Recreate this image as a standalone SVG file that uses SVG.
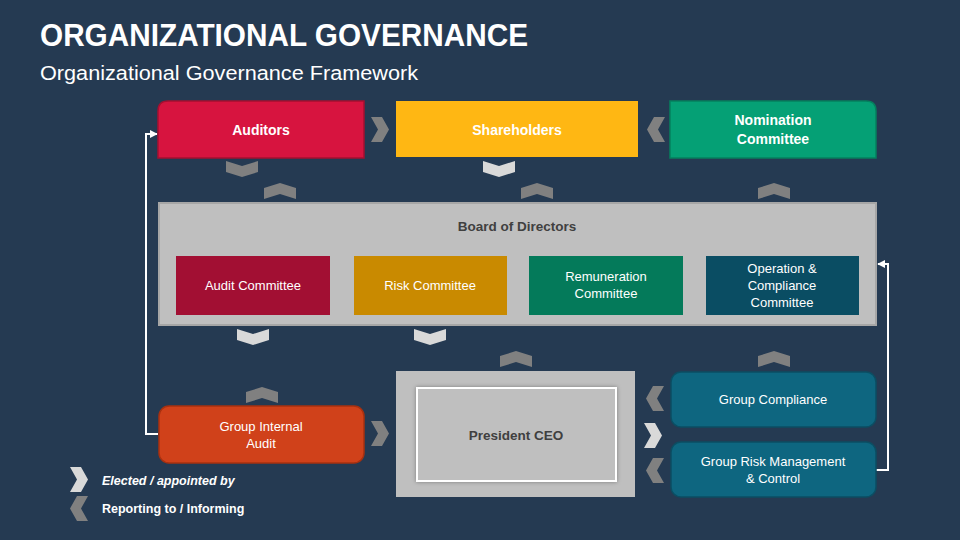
<svg xmlns="http://www.w3.org/2000/svg" width="960" height="540" viewBox="0 0 960 540">
<defs>
<style>
.t{font-family:"Liberation Sans",Arial,sans-serif;fill:#fff;text-anchor:middle}
.b{font-weight:bold}
.dk{fill:#404040}
.rep{fill:#808080}
.ele{fill:#D9D9D9}
.con{fill:none;stroke:#fff;stroke-width:2}
</style>
<marker id="ah" viewBox="0 0 10 10" refX="9" refY="5" markerWidth="4" markerHeight="4" orient="auto">
<path d="M0,0 L10,5 L0,10 Z" fill="#fff"/>
</marker>
<filter id="sh" x="-10%" y="-10%" width="120%" height="120%">
<feDropShadow dx="0" dy="0" stdDeviation="2" flood-color="#000" flood-opacity="0.35"/>
</filter>
<polygon id="cr" points="0,0 11,0 18,12.5 11,25 0,25 7,12.5"/>
<polygon id="cl" points="18,0 7,0 0,12.5 7,25 18,25 11,12.5"/>
<polygon id="cd" points="0,0 16,5 32,0 32,11 16,16 0,11"/>
<polygon id="cu" points="0,5 16,0 32,5 32,16 16,11 0,16"/>
</defs>
<rect width="960" height="540" fill="#253A52"/>
<text x="40" y="46" class="t b" style="text-anchor:start;font-size:31px" textLength="488" lengthAdjust="spacingAndGlyphs">ORGANIZATIONAL GOVERNANCE</text>
<text x="40" y="80" class="t" style="text-anchor:start;font-size:20px" textLength="378" lengthAdjust="spacingAndGlyphs">Organizational Governance Framework</text>

<g id="connectors">
<polyline class="con" points="158,434 146,434 146,134 157,134" marker-end="url(#ah)"/>
<polyline class="con" points="876,470 888,470 888,264 878,264" marker-end="url(#ah)"/>
<use href="#cr" class="rep" x="371" y="117"/>
<use href="#cl" class="rep" x="647" y="117"/>
<use href="#cd" class="rep" x="226" y="161"/>
<use href="#cu" class="rep" x="264" y="183"/>
<use href="#cd" class="ele" x="483" y="161"/>
<use href="#cu" class="rep" x="521" y="183"/>
<use href="#cu" class="rep" x="758" y="183"/>
<use href="#cd" class="ele" x="237" y="329"/>
<use href="#cd" class="ele" x="414" y="329"/>
<use href="#cu" class="rep" x="500" y="351"/>
<use href="#cu" class="rep" x="758" y="351"/>
<use href="#cu" class="rep" x="246" y="387"/>
<use href="#cr" class="rep" x="371" y="421"/>
<use href="#cl" class="rep" x="646" y="386"/>
<use href="#cr" class="ele" x="644" y="423"/>
<use href="#cl" class="rep" x="646" y="458"/>
</g>

<g id="auditors">
<path d="M158,111 Q158,101 168,101 H364 V158 H158 Z" fill="#D7143F" stroke="#A50F30" stroke-width="1.5"/>
<text x="261" y="135" class="t b" font-size="14">Auditors</text>
</g>
<g id="shareholders">
<rect x="396" y="101" width="242" height="56" fill="#FFB713"/>
<text x="517" y="135" class="t b" font-size="14">Shareholders</text>
</g>
<g id="nomination">
<path d="M670,101 H866 Q876,101 876,111 V158 H670 Z" fill="#05A075" stroke="#04805E" stroke-width="1.5"/>
<text x="773" y="125" class="t b" font-size="14">Nomination</text>
<text x="773" y="144" class="t b" font-size="14">Committee</text>
</g>

<g id="board">
<rect x="159" y="203" width="717" height="122" fill="#BFBFBF" stroke="#A6A6A6" stroke-width="2"/>
<text x="517" y="231" class="t b dk" font-size="13.5">Board of Directors</text>
</g>
<g id="audit-committee">
<rect x="176" y="256" width="154" height="59" fill="#A20F33"/>
<text x="253" y="290" class="t" font-size="13">Audit Committee</text>
</g>
<g id="risk-committee">
<rect x="354" y="256" width="153" height="59" fill="#C98A00"/>
<text x="430" y="290" class="t" font-size="13">Risk Committee</text>
</g>
<g id="remuneration-committee">
<rect x="529" y="256" width="154" height="59" fill="#047A5A"/>
<text x="606" y="281" class="t" font-size="13">Remuneration</text>
<text x="606" y="298" class="t" font-size="13">Committee</text>
</g>
<g id="operation-committee">
<rect x="706" y="256" width="153" height="59" fill="#0A4D63"/>
<text x="782" y="273" class="t" font-size="13">Operation &amp;</text>
<text x="782" y="290" class="t" font-size="13">Compliance</text>
<text x="782" y="307" class="t" font-size="13">Committee</text>
</g>

<g id="group-internal-audit">
<rect x="159" y="406" width="205" height="57" rx="10" fill="#D0411A" stroke="#A8300F" stroke-width="1.5"/>
<text x="261" y="431" class="t" font-size="13">Group Internal</text>
<text x="261" y="448" class="t" font-size="13">Audit</text>
</g>
<g id="president-ceo">
<rect x="396" y="371" width="239" height="126" fill="#BFBFBF"/>
<rect x="417" y="388" width="199" height="93" fill="#BFBFBF" stroke="#fff" stroke-width="2" filter="url(#sh)"/>
<text x="516" y="440" class="t b dk" font-size="13.5">President CEO</text>
</g>
<g id="group-compliance">
<rect x="671" y="372" width="205" height="55" rx="10" fill="#0E6680" stroke="#0B4E63" stroke-width="1.5"/>
<text x="773" y="404" class="t" font-size="13">Group Compliance</text>
</g>
<g id="group-risk">
<rect x="671" y="442" width="205" height="55" rx="10" fill="#0E6680" stroke="#0B4E63" stroke-width="1.5"/>
<text x="773" y="466" class="t" font-size="13">Group Risk Management</text>
<text x="773" y="483" class="t" font-size="13">&amp; Control</text>
</g>

<g id="legend">
<use href="#cr" class="ele" x="70" y="467"/>
<use href="#cl" class="rep" x="70" y="496"/>
<text x="102" y="485" class="t b" style="text-anchor:start;font-style:italic" font-size="12.5">Elected / appointed by</text>
<text x="102" y="513" class="t b" style="text-anchor:start" font-size="12.5">Reporting to / Informing</text>
</g>
</svg>
